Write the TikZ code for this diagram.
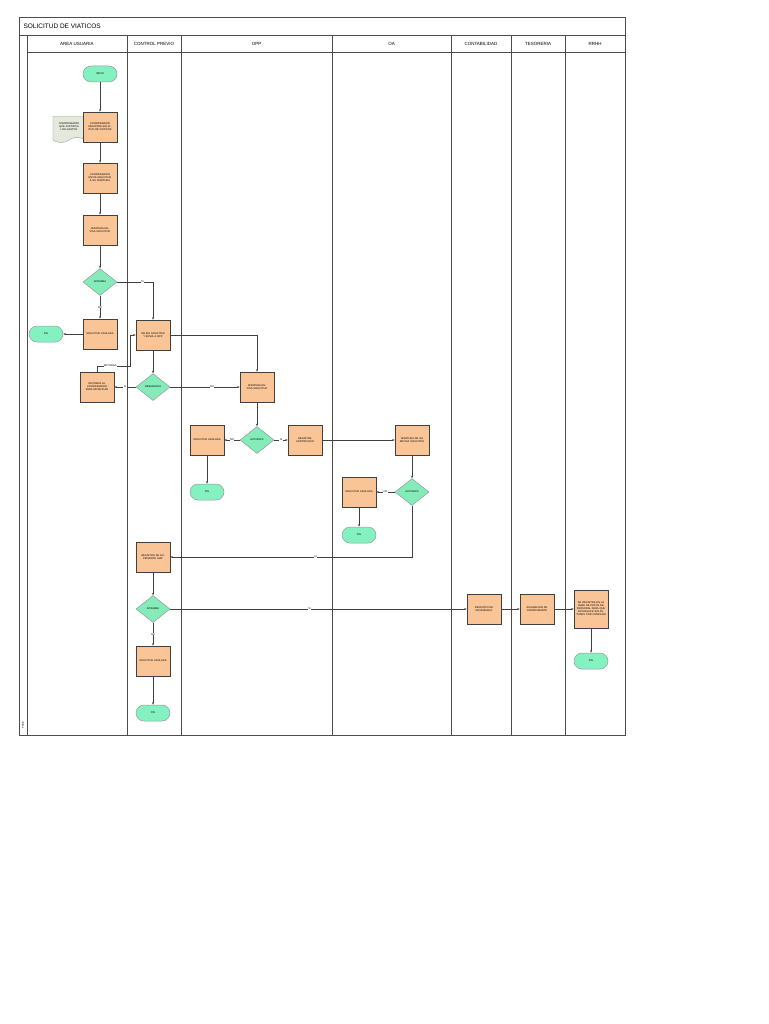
\documentclass[tikz,border=0pt]{standalone}
\usepackage{fontspec}
\setmainfont{Liberation Sans}
\usetikzlibrary{shapes.geometric,shapes.symbols,arrows.meta}
\definecolor{proc}{HTML}{F9C597}
\definecolor{term}{HTML}{84F2C0}
\definecolor{dec}{HTML}{84EBB9}
\definecolor{docf}{HTML}{E4E9DC}
\tikzset{
 x=1pt,y=-1pt,
 lane/.style={draw=black!70,line width=0.6pt},
 tx/.style={font=\fontsize{2.6}{3.0}\selectfont,align=center},
 proc/.style={tx,draw=black!75,line width=0.6pt,fill=proc,minimum width=34pt,minimum height=30pt,text width=30pt,inner sep=1pt},
 term/.style={tx,draw=black!40,line width=0.5pt,fill=term,rounded corners=8pt,minimum width=34pt,minimum height=16pt},
 dec/.style={tx,draw=black!40,line width=0.5pt,fill=dec,diamond,aspect=1.3,minimum width=34pt,minimum height=27pt,inner sep=0pt},
 docu/.style={tx,draw=black!40,fill=docf,tape,tape bend top=none,minimum width=32pt,minimum height=26pt,text width=30pt,inner sep=1pt},
 ar/.style={draw=black!75,line width=0.6pt,-{Stealth[length=2.5pt,width=2pt]}},
 lb/.style={font=\fontsize{2.6}{3}\selectfont,fill=white,inner sep=0.3pt},
 hd/.style={font=\fontsize{4.5}{5}\selectfont}
}
\begin{document}
\begin{tikzpicture}
\useasboundingbox (0,0) rectangle (768,1024);
\fill[white] (0,0) rectangle (768,1024);
% frame
\draw[lane] (19,17) rectangle (625,735);
\draw[lane] (19,35) -- (625,35);
\draw[lane] (27,52) -- (625,52);
\draw[lane] (27,35) -- (27,735);
\foreach \x in {127,181,332,451,511,565} \draw[lane] (\x,35) -- (\x,735);
\node[anchor=west,font=\fontsize{6.5}{7}\selectfont] (title) at (20,26) {SOLICITUD DE VIATICOS};
\node[hd] (h1) at (77,43.5) {AREA USUARIA};
\node[hd] (h2) at (154,43.5) {CONTROL PREVIO};
\node[hd] (h3) at (256.5,43.5) {OPP};
\node[hd] (h4) at (391.5,43.5) {OA};
\node[hd] (h5) at (481,43.5) {CONTABILIDAD};
\node[hd] (h6) at (538,43.5) {TESORERIA};
\node[hd] (h7) at (595,43.5) {RRHH};
\node[rotate=90,font=\fontsize{2.5}{3}\selectfont] (fase) at (23,725) {FASE};
% nodes
\node[term] (ini) at (100,74) {INICIO};
\node[docu] (comp) at (69,127) {COMPROBANTE QUE JUSTIFICA LOS GASTOS};
\node[proc] (reg) at (100,127) {COORDINADOR REGISTRA SOLICITUD DE VIATICOS};
\node[proc] (env) at (100,178) {COORDINADOR ENVIA SOLICITUD A SU JEFATURA};
\node[proc] (jef) at (100,230) {JEFATURA REVISA SOLICITUD};
\node[dec] (apr1) at (100,282) {APRUEBA};
\node[proc] (an1) at (100,334) {SOLICITUD ANULADA};
\node[term] (fin1) at (46,334) {FIN};
\node[proc] (val) at (153,335) {VALIDA SOLICITUD Y ENVIA A OPP};
\node[proc] (ret) at (97,387) {RETORNA AL COORDINADOR PARA MODIFICAR};
\node[dec] (obs) at (153,387) {OBSERVADO};
\node[proc] (jopp) at (257,387) {JEFATURA REVISA SOLICITUD};
\node[proc] (an2) at (207,440) {SOLICITUD ANULADA};
\node[dec] (aut1) at (257,440) {AUTORIZA};
\node[proc] (cert) at (305,440) {REGISTRA CERTIFICADO};
\node[term] (fin2) at (207,492) {FIN};
\node[proc] (joa) at (412,440) {JEFATURA DE OA REVISA SOLICITUD};
\node[proc] (an3) at (359,492) {SOLICITUD ANULADA};
\node[dec] (aut2) at (412,492) {AUTORIZA};
\node[term] (fin3) at (359,535) {FIN};
\node[proc] (siaf) at (153,557) {REGISTRO DE EXPEDIENTE SIAF};
\node[dec] (apr2) at (153,609) {APRUEBA};
\node[proc] (an4) at (153,661) {SOLICITUD ANULADA};
\node[term] (fin4) at (153,713) {FIN};
\node[proc] (dev) at (484,609) {REGISTRO DE DEVENGADO};
\node[proc] (asig) at (537,609) {ASIGNACION DE COMPROBANTE};
\node[proc,minimum height=38pt] (rrhh) at (591,609) {SE REGISTRA EN LA BASE DE DATOS DE PERSONAL PARA QUE NO REALICE SOLICITUDES POR COMISION};
\node[term] (fin5) at (591,661) {FIN};
% edges
\draw[ar] (ini) -- (reg);
\draw[ar] (reg) -- (env);
\draw[ar] (env) -- (jef);
\draw[ar] (jef) -- (apr1);
\draw[ar] (apr1) -- node[lb]{NO} (an1);
\draw[ar] (an1) -- (fin1);
\draw[ar] (apr1.east) -- node[lb,pos=0.7]{SI} (153,282) -- (val);
\draw[ar] (val.east) -- (257,335) -- (jopp);
\draw[ar] (val) -- (obs);
\draw[ar] (obs) -- node[lb]{SI} (ret);
\draw[ar] (ret.north) -- (97,366) -- node[lb,pos=0.4]{RETORNA} (130,366) -- (130,335) -- (val.west);
\draw[ar] (obs) -- node[lb,pos=0.6]{NO} (jopp);
\draw[ar] (jopp) -- (aut1);
\draw[ar] (aut1) -- node[lb]{NO} (an2);
\draw[ar] (an2) -- (fin2);
\draw[ar] (aut1) -- node[lb]{SI} (cert);
\draw[ar] (cert) -- (joa);
\draw[ar] (joa) -- (aut2);
\draw[ar] (aut2) -- node[lb]{NO} (an3);
\draw[ar] (an3) -- (fin3);
\draw[ar] (aut2.south) -- (412,557) -- node[lb,pos=0.4]{SI} (siaf.east);
\draw[ar] (siaf) -- (apr2);
\draw[ar] (apr2) -- node[lb]{NO} (an4);
\draw[ar] (an4) -- (fin4);
\draw[ar] (apr2) -- node[lb,pos=0.47]{SI} (dev);
\draw[ar] (dev) -- (asig);
\draw[ar] (asig) -- (rrhh);
\draw[ar] (rrhh) -- (fin5);
\end{tikzpicture}
\end{document}
